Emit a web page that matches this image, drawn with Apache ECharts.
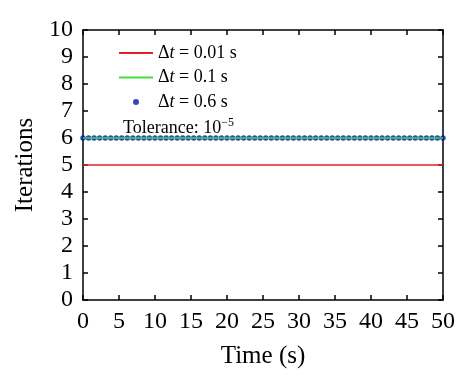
<!DOCTYPE html>
<html>
<head>
<meta charset="utf-8">
<script src="https://cdn.jsdelivr.net/npm/echarts@6/dist/echarts.min.js"></script>
<style>html,body{margin:0;padding:0;background:#fff}#c{width:474px;height:388px}</style>
</head>
<body>
<div id="c"></div>
<script>
var xTicks = [0, 5, 10, 15, 20, 25, 30, 35, 40, 45, 50];
var yTicks = [0, 1, 2, 3, 4, 5, 6, 7, 8, 9, 10];
var timeLine = [0, 50];
var iterSmall = [5, 5];      // dt = 0.01 s
var iterMid = [6, 6];        // dt = 0.1 s
var timeDots = [0, 0.77, 1.54, 2.31, 3.08, 3.85, 4.62, 5.38, 6.15, 6.92, 7.69, 8.46, 9.23, 10, 10.77, 11.54, 12.31, 13.08, 13.85, 14.62, 15.38, 16.15, 16.92, 17.69, 18.46, 19.23, 20, 20.77, 21.54, 22.31, 23.08, 23.85, 24.62, 25.38, 26.15, 26.92, 27.69, 28.46, 29.23, 30, 30.77, 31.54, 32.31, 33.08, 33.85, 34.62, 35.38, 36.15, 36.92, 37.69, 38.46, 39.23, 40, 40.77, 41.54, 42.31, 43.08, 43.85, 44.62, 45.38, 46.15, 46.92, 47.69, 48.46, 49.23, 50];
var iterLarge = [6, 6, 6, 6, 6, 6, 6, 6, 6, 6, 6, 6, 6, 6, 6, 6, 6, 6, 6, 6, 6, 6, 6, 6, 6, 6, 6, 6, 6, 6, 6, 6, 6, 6, 6, 6, 6, 6, 6, 6, 6, 6, 6, 6, 6, 6, 6, 6, 6, 6, 6, 6, 6, 6, 6, 6, 6, 6, 6, 6, 6, 6, 6, 6, 6, 6]; // dt = 0.6 s
var seriesNames = ['dt001', 'dt01', 'dt06'];
var legendLabels = { dt001: '0.01', dt01: '0.1', dt06: '0.6' };

var FONT = 'Liberation Serif';
function pairs(xs, ys) { return xs.map(function (x, i) { return [x, ys[i]]; }); }

var chart = echarts.init(document.getElementById('c'), null, { renderer: 'canvas' });
var axisLine = { show: true, onZero: false, lineStyle: { color: '#000', width: 1.5 } };
var tickIn = { show: true, inside: true, length: 5, lineStyle: { color: '#000', width: 1.5 } };
chart.setOption({
  animation: false,
  backgroundColor: '#fff',
  grid: { left: 83, right: 31, top: 30, bottom: 88 },
  xAxis: [{
    type: 'value', min: 0, max: 50, interval: 5,
    name: 'Time (s)', nameLocation: 'middle', nameGap: 44,
    nameTextStyle: { fontFamily: FONT, fontSize: 25, color: '#000' },
    axisLine: axisLine, axisTick: tickIn, splitLine: { show: false },
    axisLabel: { fontFamily: FONT, fontSize: 24, color: '#000', margin: 10 }
  }, {
    type: 'value', min: 0, max: 50, interval: 5, position: 'top',
    axisLine: axisLine, axisTick: tickIn, splitLine: { show: false }, axisLabel: { show: false }
  }],
  yAxis: [{
    type: 'value', min: 0, max: 10, interval: 1,
    name: 'Iterations', nameLocation: 'middle', nameGap: 40,
    nameTextStyle: { fontFamily: FONT, fontSize: 25, color: '#000' },
    axisLine: axisLine, axisTick: tickIn, splitLine: { show: false },
    axisLabel: { fontFamily: FONT, fontSize: 24, color: '#000', margin: 10 }
  }, {
    type: 'value', min: 0, max: 10, interval: 1, position: 'right',
    axisLine: axisLine, axisTick: tickIn, splitLine: { show: false }, axisLabel: { show: false }
  }],
  legend: {
    orient: 'vertical', left: 118, top: 44, padding: 0,
    itemWidth: 34, itemHeight: 6, itemGap: 6.5,
    data: [
      { name: 'dt001', itemStyle: { opacity: 0 } },
      { name: 'dt01', itemStyle: { opacity: 0 } },
      { name: 'dt06', icon: 'circle' }
    ],
    formatter: function (n) { return '{d|Δ}{i|t}{d| = ' + legendLabels[n] + ' s}'; },
    textStyle: {
      fontFamily: FONT, fontSize: 18, color: '#000', lineHeight: 18,
      rich: {
        d: { fontFamily: FONT, fontSize: 18, color: '#000', lineHeight: 18 },
        i: { fontFamily: FONT, fontSize: 18, fontStyle: 'italic', color: '#000', lineHeight: 18 }
      }
    }
  },
  graphic: [{
    type: 'text', left: 123, top: 117,
    style: {
      text: '{n|Tolerance: 10}{s|−5}',
      rich: {
        n: { fontFamily: FONT, fontSize: 18, fill: '#000', verticalAlign: 'bottom' },
        s: { fontFamily: FONT, fontSize: 12, fill: '#000', verticalAlign: 'top', padding: [0, 0, 8, 0] }
      }
    }
  }],
  series: [{
    name: 'dt001', type: 'line', symbol: 'none', data: pairs(timeLine, iterSmall),
    lineStyle: { color: '#e0202a', width: 1.5 }, itemStyle: { color: '#e0202a' }
  }, {
    name: 'dt01', type: 'line', symbol: 'none', data: pairs(timeLine, iterMid),
    lineStyle: { color: '#3ee03e', width: 1.5 }, itemStyle: { color: '#3ee03e' }
  }, {
    name: 'dt06', type: 'scatter', symbol: 'circle', symbolSize: 5.5,
    data: pairs(timeDots, iterLarge), itemStyle: { color: '#0018b0' }
  }]
});
</script>
</body>
</html>
